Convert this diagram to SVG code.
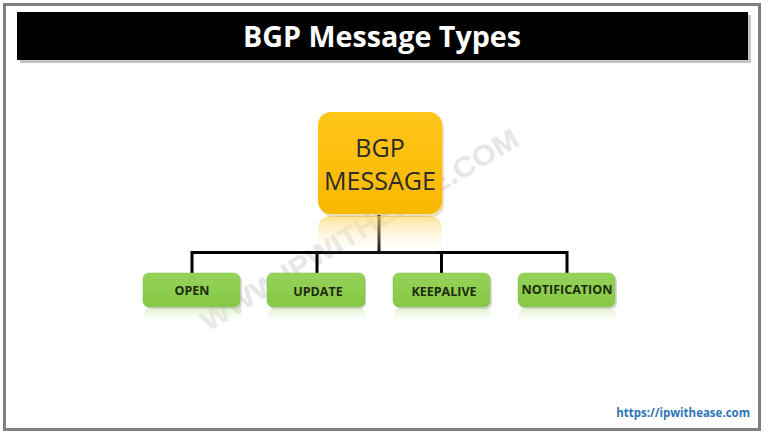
<svg xmlns="http://www.w3.org/2000/svg" width="768" height="437" viewBox="0 0 768 437">
<defs>
<linearGradient id="gold" x1="0" y1="0" x2="0" y2="1">
<stop offset="0" stop-color="#FFC61A"/>
<stop offset="1" stop-color="#F9B800"/>
</linearGradient>
<linearGradient id="refl" x1="0" y1="0" x2="0" y2="1">
<stop offset="0" stop-color="#FFD766" stop-opacity="0.7"/>
<stop offset="1" stop-color="#FFFFFF" stop-opacity="0"/>
</linearGradient>
<linearGradient id="green" x1="0" y1="0" x2="0" y2="1">
<stop offset="0" stop-color="#96D35A"/>
<stop offset="1" stop-color="#86C845"/>
</linearGradient>
<linearGradient id="grefl" x1="0" y1="0" x2="0" y2="1">
<stop offset="0" stop-color="#C8E6A8" stop-opacity="0.6"/>
<stop offset="1" stop-color="#FFFFFF" stop-opacity="0"/>
</linearGradient>
</defs>
<style>
.frame{fill:#FFFFFF;stroke:#7F7F7F;stroke-width:3}
.leaf rect.b{fill:url(#green);stroke:#7FBF45;stroke-width:0.5}
.leaf rect.s{fill:#BDBDBD;opacity:0.6}
.leaf text{font-family:"Open Sans","Liberation Sans",sans-serif;font-weight:bold;font-size:12.5px;fill:#1E2A10;text-anchor:middle}
.conn{fill:none;stroke:#000000;stroke-width:3}
</style>
<rect width="768" height="437" fill="#FFFFFF"/>
<rect class="frame" x="4.5" y="4.5" width="755" height="425"/>
<rect x="20" y="15" width="731" height="48" fill="#9A9A9A" opacity="0.6"/>
<g id="title">
<rect x="17" y="12" width="731" height="48" fill="#000000"/>
<text x="382" y="47" font-family="Open Sans, Liberation Sans, sans-serif" font-weight="bold" font-size="29" fill="#FFFFFF" text-anchor="middle" textLength="278" lengthAdjust="spacingAndGlyphs">BGP Message Types</text>
</g>
<text transform="translate(208,332) rotate(-31)" font-family="Liberation Sans, sans-serif" font-weight="bold" font-size="28" fill="#E2E2E2" opacity="0.85" textLength="365" lengthAdjust="spacingAndGlyphs">WWW.IPWITHEASE.COM</text>
<g id="connectors">
<path class="conn" d="M379 215 V252.5 M192 275 V252.5 H567 V275 M317 252.5 V275 M441.5 252.5 V275"/>
</g>
<g id="root">
<rect x="318" y="216" width="124" height="40" rx="12" fill="url(#refl)"/>
<rect x="320" y="115" width="124" height="102" rx="13" fill="#C8A040" opacity="0.35"/>
<rect x="318" y="112" width="124" height="102" rx="13" fill="url(#gold)"/>
<text x="380" y="157" font-family="Open Sans, Liberation Sans, sans-serif" font-size="25" fill="#2B2B2B" text-anchor="middle">BGP</text>
<text x="380" y="190" font-family="Open Sans, Liberation Sans, sans-serif" font-size="25" fill="#2B2B2B" text-anchor="middle" textLength="112" lengthAdjust="spacingAndGlyphs">MESSAGE</text>
</g>
<g id="open" class="leaf">
<rect x="144" y="308" width="97" height="16" rx="6" fill="url(#grefl)"/>
<rect class="s" x="145" y="275" width="97" height="34" rx="6"/>
<rect class="b" x="143" y="273" width="97" height="34" rx="6"/>
<text x="192" y="295">OPEN</text>
</g>
<g id="update" class="leaf">
<rect x="268" y="308" width="97" height="16" rx="6" fill="url(#grefl)"/>
<rect class="s" x="269" y="275" width="97" height="34" rx="6"/>
<rect class="b" x="267" y="273" width="98" height="34" rx="6"/>
<text x="318" y="296">UPDATE</text>
</g>
<g id="keepalive" class="leaf">
<rect x="394" y="308" width="97" height="16" rx="6" fill="url(#grefl)"/>
<rect class="s" x="395" y="275" width="97" height="34" rx="6"/>
<rect class="b" x="393" y="273" width="97" height="34" rx="6"/>
<text x="444" y="296">KEEPALIVE</text>
</g>
<g id="notification" class="leaf">
<rect x="519" y="308" width="97" height="16" rx="6" fill="url(#grefl)"/>
<rect class="s" x="520" y="275" width="97" height="34" rx="6"/>
<rect class="b" x="518" y="273" width="97" height="34" rx="6"/>
<text x="567" y="294" textLength="91" lengthAdjust="spacingAndGlyphs">NOTIFICATION</text>
</g>
<text x="750" y="417" font-family="Open Sans, Liberation Sans, sans-serif" font-weight="bold" font-size="11.5" fill="#2E75B6" text-anchor="end">https://ipwithease.com</text>
</svg>
